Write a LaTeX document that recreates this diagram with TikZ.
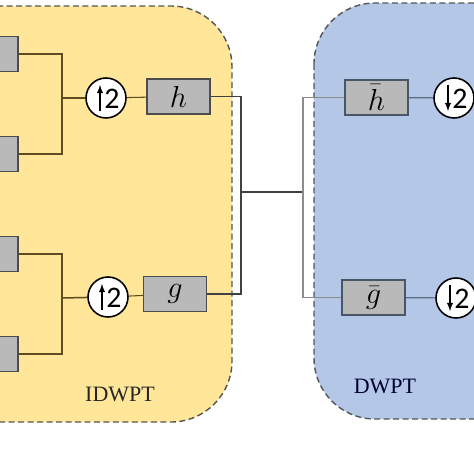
\documentclass[tikz,border=0pt]{standalone}
\usepackage{amsmath}
\usepackage{fontspec}
\setsansfont{Carlito}
\newfontfamily\capfont{Liberation Serif}
\usepackage{xcolor}
\usetikzlibrary{shapes, positioning, calc, backgrounds}

\definecolor{gold}{HTML}{FFE699}
\definecolor{sky}{HTML}{B4C7E7}
\definecolor{rim}{HTML}{555555}
\definecolor{wireY}{HTML}{5E4B1F}
\definecolor{wireB}{HTML}{5B6B82}

\begin{document}
\begin{tikzpicture}[x=0.02cm, y=-0.02cm,
        panel/.style={draw=rim, line width=0.8pt, dash pattern=on 3.4pt off 2pt, rounded corners=1.22cm},
        fbox/.style={draw=#1, fill=gray!55, line width=0.7pt, minimum width=1.26cm, minimum height=0.7cm, inner sep=0pt, font=\fontsize{19}{21}\selectfont},
        updown/.style={draw=black, fill=white, circle, line width=0.9pt, minimum size=0.8cm, inner sep=0pt},
        wire/.style={draw=#1, line width=0.85pt}]
        \useasboundingbox (0, 0) rectangle (474, 474);
        \clip (0, 0) rectangle (474, 474);

        % junction points
        \coordinate (fk1) at (62, 98);
        \coordinate (fk2) at (62, 298);
        \coordinate (m1) at (241, 192);
        \coordinate (m2) at (303, 192);

        % filter boxes
        \node[fbox=black!70, minimum width=0.8cm] (l1) at (-2, 54) {};
        \node[fbox=black!70, minimum width=0.8cm] (l2) at (-2, 154) {};
        \node[fbox=black!70, minimum width=0.8cm] (l3) at (-2, 254) {};
        \node[fbox=black!70, minimum width=0.8cm] (l4) at (-2, 354) {};
        \node[fbox=black!70] (h) at (178.5, 96.5) {$h$};
        \node[fbox=black!70] (g) at (175, 294) {$g$};
        \node[fbox=wireB!80!black] (hb) at (376.5, 97.5) {$\bar{h}$};
        \node[fbox=wireB!80!black] (gb) at (373.5, 297.5) {$\bar{g}$};

        % up- and down-samplers
        \node[updown] (up1) at (106, 98) {};
        \node[updown] (up2) at (108, 297) {};
        \node[updown] (dn1) at (454, 98) {};
        \node[updown] (dn2) at (456, 298) {};

        % arrows and factors
        \foreach \n in {up1, up2} {
            \draw[-latex, line width=0.6pt] ($(\n)+(-6, 13)$) -- ($(\n)+(-6, -13)$);
            \node[font=\sffamily\fontsize{17}{18}\selectfont] at ($(\n)+(6, 1)$) {2};
        }
        \foreach \n in {dn1, dn2} {
            \draw[-latex, line width=0.6pt] ($(\n)+(-6, -13)$) -- ($(\n)+(-6, 13)$);
            \node[font=\sffamily\fontsize{17}{18}\selectfont] at ($(\n)+(6, 1)$) {2};
        }

        \begin{pgfonlayer}{background}
        % the two panels
        \draw[panel, fill=gold] (-80, 6) rectangle (232, 422);
        \draw[panel, fill=sky] (314, 3) rectangle (560, 419);

        % wires
        \draw[wire=wireY] (l1.east) -| (fk1) |- (l2.east);
        \draw[wire=wireY] (l3.east) -| (fk2) |- (l4.east);
        \draw[wire=wireY] (fk1) -- (up1);
        \draw[wire=wireY] (fk2) -- (up2);
        \draw[wire=wireY, line width=0.6pt] (up1) -- (h);
        \draw[wire=wireY, line width=0.6pt] (up2) -- (g);
        \draw[black!75, line width=0.6pt] (h.east) -| (m1) |- (g.east);
        \draw[black!75, line width=0.6pt] (m1) -- (m2);
        \draw[black!45, line width=0.6pt] (hb.west) -| (m2) |- (gb.west);
        \draw[wireB, line width=0.7pt] (hb) -- (dn1);
        \draw[wireB, line width=0.7pt] (gb) -- (dn2);
        \end{pgfonlayer}

        \node[font=\capfont\fontsize{12.5}{14}\selectfont, text=black!85] (idwpt) at (120, 394) {IDWPT};
        \node[font=\capfont\fontsize{12.5}{14}\selectfont, text=black!80!blue] (dwpt) at (385, 386) {DWPT};
    \end{tikzpicture}
\end{document}
